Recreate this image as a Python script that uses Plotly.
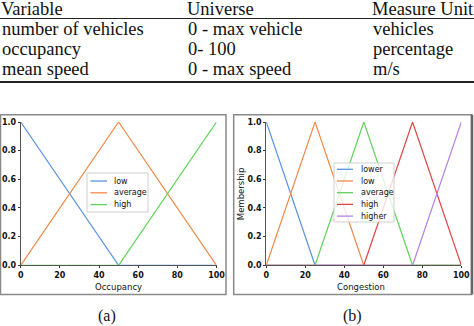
import plotly.graph_objects as go

# ---------------- data ----------------
table_header = ["Variable", "Universe", "Measure Unit"]
table_variable = ["number of vehicles", "occupancy", "mean speed"]
table_universe = ["0 - max vehicle", "0- 100", "0 - max speed"]
table_unit = ["vehicles", "percentage", "m/s"]

occ_x = [0, 50, 100]
occ_low = [1, 0, 0]
occ_average = [0, 1, 0]
occ_high = [0, 0, 1]
occ_names = ["low", "average", "high"]

cong_x = [0, 25, 50, 75, 100]
cong_lower = [1, 0, 0, 0, 0]
cong_low = [0, 1, 0, 0, 0]
cong_average = [0, 0, 1, 0, 0]
cong_high = [0, 0, 0, 1, 0]
cong_higher = [0, 0, 0, 0, 1]
cong_names = ["lower", "low", "average", "high", "higher"]

x_ticks = [0, 20, 40, 60, 80, 100]
y_ticks = [0.0, 0.2, 0.4, 0.6, 0.8, 1.0]
panel_labels = ["(a)", "(b)"]

# ---------------- style ----------------
W, H = 474, 326
BLUE, ORANGE, GREEN, RED, PURPLE = "#5a93e0", "#f28a4a", "#62d35a", "#e04848", "#b583e6"


def px(x):
    return x / W


def py(y):
    return 1 - y / H


fig = go.Figure()

occ_series = [occ_low, occ_average, occ_high]
occ_colors = [BLUE, ORANGE, GREEN]
for name, ys, c in zip(occ_names, occ_series, occ_colors):
    fig.add_trace(go.Scatter(x=occ_x, y=ys, mode="lines", name=name,
                             line=dict(color=c, width=1.2), showlegend=False,
                             xaxis="x", yaxis="y"))

cong_series = [cong_lower, cong_low, cong_average, cong_high, cong_higher]
cong_colors = [BLUE, ORANGE, GREEN, RED, PURPLE]
for name, ys, c in zip(cong_names, cong_series, cong_colors):
    fig.add_trace(go.Scatter(x=cong_x, y=ys, mode="lines", name=name,
                             line=dict(color=c, width=1.2), showlegend=False,
                             xaxis="x2", yaxis="y2"))

tickfont = dict(family="DejaVu Sans", size=8, color="#111", weight="bold")
axis_common = dict(showgrid=False, zeroline=False, showline=True, linecolor="#555",
                   linewidth=1, ticks="outside", ticklen=2, tickcolor="#333",
                   tickwidth=1, tickfont=tickfont, mirror=False, automargin=False,
                   fixedrange=True)

y_top, y_bot = 122.0, 265.3
fig.update_layout(
    width=W, height=H, margin=dict(l=0, r=0, t=0, b=0),
    paper_bgcolor="white", plot_bgcolor="white", showlegend=False,
    xaxis=dict(domain=[px(20.7), px(216.5)], range=[0, 100], tickvals=x_ticks,
               anchor="y", **axis_common),
    yaxis=dict(domain=[py(y_bot), py(y_top)], range=[0, 1], tickvals=y_ticks,
               tickformat=".1f", anchor="x", **axis_common),
    xaxis2=dict(domain=[px(266.3), px(461.3)], range=[0, 100], tickvals=x_ticks,
                anchor="y2", **axis_common),
    yaxis2=dict(domain=[py(y_bot), py(y_top)], range=[0, 1], tickvals=y_ticks,
                tickformat=".1f", anchor="x2", **axis_common),
)

shapes = []
annotations = []

# ---- table ----
col_x = [0, 186, 371]
serif = dict(family="Liberation Serif", size=18.5, color="#111")
for cx, t in zip(col_x, table_header):
    annotations.append(dict(x=px(cx), y=py(9.5), xref="paper", yref="paper", text=t,
                            showarrow=False, xanchor="left", yanchor="middle",
                            font=serif, borderpad=0))
row_y = [29, 49, 69]
for ry, a, b, c in zip(row_y, table_variable, table_universe, table_unit):
    for cx, t in zip(col_x, [a, b, c]):
        annotations.append(dict(x=px(cx), y=py(ry), xref="paper", yref="paper",
                                text=t, showarrow=False, xanchor="left",
                                yanchor="middle", font=serif))
shapes.append(dict(type="line", xref="paper", yref="paper", x0=0, x1=1,
                   y0=py(18.5), y1=py(18.5), line=dict(color="#222", width=1.2)))
shapes.append(dict(type="line", xref="paper", yref="paper", x0=0, x1=1,
                   y0=py(82), y1=py(82), line=dict(color="#222", width=2)))

# ---- panel frames ----
shapes.append(dict(type="rect", xref="paper", yref="paper", x0=px(0.5), x1=px(226),
                   y0=py(294.5), y1=py(114.7), line=dict(color="#8a8a8a", width=1.5)))
shapes.append(dict(type="rect", xref="paper", yref="paper", x0=px(233.7), x1=px(471.5),
                   y0=py(294.5), y1=py(114.7), line=dict(color="#8a8a8a", width=1.5)))
shapes.append(dict(type="line", xref="paper", yref="paper", x0=px(472), x1=px(472),
                   y0=py(294.5), y1=py(114.7), line=dict(color="#666", width=2.5)))

# ---- axis titles ----
lab = dict(family="DejaVu Sans", size=8.5, color="#111")
annotations.append(dict(x=px(118.5), y=py(286.7), xref="paper", yref="paper",
                        text="Occupancy", showarrow=False, font=lab,
                        xanchor="center", yanchor="middle"))
annotations.append(dict(x=px(361), y=py(286.7), xref="paper", yref="paper",
                        text="Congestion", showarrow=False, font=lab,
                        xanchor="center", yanchor="middle"))
annotations.append(dict(x=px(240.7), y=py(193.5), xref="paper", yref="paper",
                        text="Membership", showarrow=False, font=lab, textangle=-90,
                        xanchor="center", yanchor="middle"))

# ---- legends ----
def legend(box, names, colors, y0, dy, lx0, lx1, tx):
    shapes.append(dict(type="rect", xref="paper", yref="paper",
                       x0=px(box[0]), x1=px(box[1]), y0=py(box[3]), y1=py(box[2]),
                       line=dict(color="#d0d0d0", width=1), fillcolor="rgba(255,255,255,0.8)",
                       layer="above"))
    for i, (n, c) in enumerate(zip(names, colors)):
        yy = y0 + i * dy
        shapes.append(dict(type="line", xref="paper", yref="paper", x0=px(lx0), x1=px(lx1),
                           y0=py(yy), y1=py(yy), line=dict(color=c, width=1.3), layer="above"))
        annotations.append(dict(x=px(tx), y=py(yy), xref="paper", yref="paper", text=n,
                                showarrow=False, xanchor="left", yanchor="middle",
                                font=dict(family="DejaVu Sans", size=8, color="#111")))

legend((87, 148, 173, 212), occ_names, occ_colors, 181, 11.8, 90.5, 107, 112)
legend((334, 394, 163, 222), cong_names, cong_colors, 169.3, 11.7, 337, 353, 359)

# ---- panel labels ----
for xx, t in zip([107, 352.7], panel_labels):
    annotations.append(dict(x=px(xx), y=py(316), xref="paper", yref="paper", text=t,
                            showarrow=False, xanchor="center", yanchor="middle",
                            font=dict(family="Liberation Serif", size=16, color="#111")))

fig.update_layout(shapes=shapes, annotations=annotations)
fig.write_html("out.html")
